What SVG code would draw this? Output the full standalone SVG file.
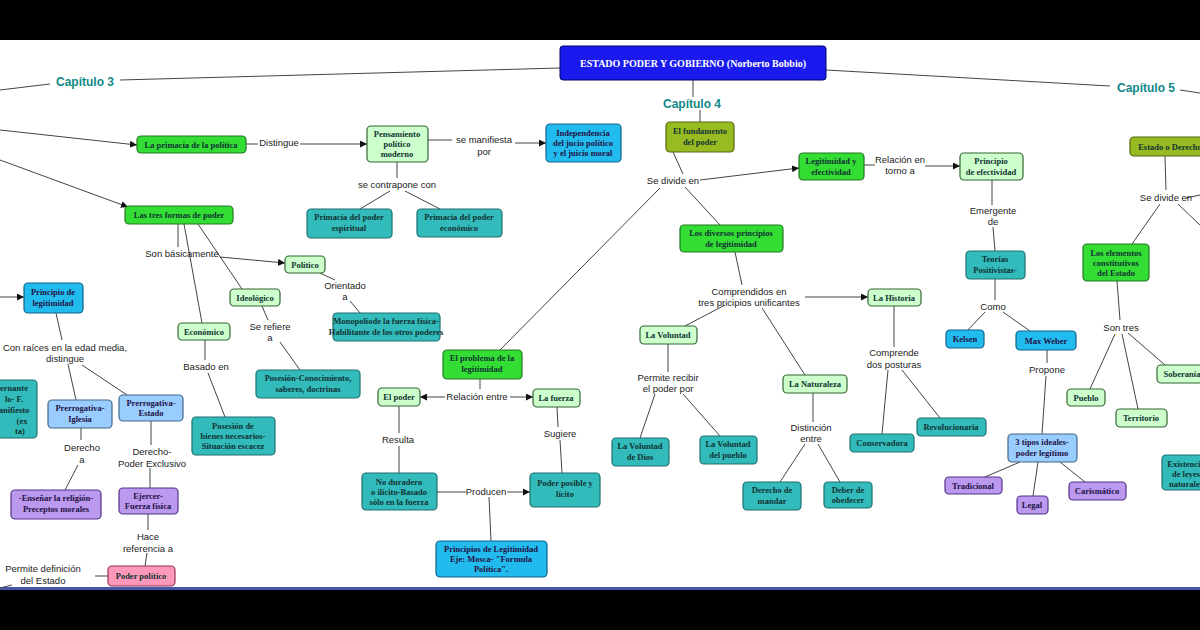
<svg xmlns="http://www.w3.org/2000/svg" width="1200" height="630" viewBox="0 0 1200 630">
<style>
.n rect{rx:4;stroke-width:1.2}
.lg rect{fill:#ccffcc;stroke:#336633}
.bg rect{fill:#33dd33;stroke:#227722}
.tl rect{fill:#33bbbb;stroke:#1f6f6f}
.bl rect{fill:#22bbee;stroke:#11628a}
.lb rect{fill:#99ccff;stroke:#446688}
.pu rect{fill:#bb99ee;stroke:#553388}
.pk rect{fill:#ff99bb;stroke:#993355}
.ol rect{fill:#99bb22;stroke:#556611}
.n text{font-family:"Liberation Serif",serif;font-weight:bold;font-size:8.5px;fill:#113333;text-anchor:middle}
.lb text,.pu text,.bl text{fill:#221144}
.l{font-family:"Liberation Sans",Arial,sans-serif;font-size:9.5px;fill:#222;text-anchor:middle}
.c line,.c path{stroke:#444;stroke-width:1;fill:none}
.cap{font-family:"Liberation Sans",Arial,sans-serif;font-weight:bold;font-size:12px;fill:#118888;text-anchor:middle}
</style>
<defs><marker id="a" viewBox="0 0 10 10" refX="10" refY="5" markerWidth="7" markerHeight="7" orient="auto"><path d="M0,0L10,5L0,10z" fill="#111"/></marker></defs>
<rect width="1200" height="630" fill="#000"/>
<rect y="40" width="1200" height="549" fill="#fff"/>
<rect y="587" width="1200" height="3" fill="#4455aa"/>
<g class="c">
<line x1="560" y1="68" x2="120" y2="80"/><line x1="50" y1="84" x2="0" y2="90"/>
<line x1="826" y1="70" x2="1110" y2="86"/><line x1="1180" y1="90" x2="1200" y2="93"/>
<line x1="693" y1="80" x2="693" y2="97"/><line x1="700" y1="110" x2="700" y2="122"/>
<line x1="0" y1="130" x2="137" y2="145" marker-end="url(#a)"/>
<line x1="0" y1="160" x2="128" y2="207" marker-end="url(#a)"/>
<line x1="246" y1="144" x2="258" y2="144"/><line x1="300" y1="144" x2="367" y2="144" marker-end="url(#a)"/>
<line x1="428" y1="140" x2="452" y2="140"/><line x1="515" y1="143" x2="546" y2="143" marker-end="url(#a)"/>
<line x1="397" y1="162" x2="397" y2="178"/><line x1="390" y1="191" x2="360" y2="209"/><line x1="405" y1="191" x2="440" y2="209"/>
<line x1="178" y1="224" x2="178" y2="247"/><line x1="220" y1="257" x2="285" y2="263" marker-end="url(#a)"/>
<line x1="184" y1="224" x2="202" y2="323"/><line x1="198" y1="224" x2="242" y2="289"/>
<line x1="320" y1="273" x2="335" y2="280"/><line x1="350" y1="301" x2="360" y2="313"/>
<line x1="262" y1="306" x2="268" y2="320"/><line x1="280" y1="342" x2="300" y2="370"/>
<line x1="205" y1="340" x2="205" y2="360"/><line x1="208" y1="373" x2="225" y2="417"/>
<line x1="0" y1="297" x2="24" y2="297" marker-end="url(#a)"/>
<line x1="56" y1="313" x2="62" y2="340"/><line x1="68" y1="364" x2="76" y2="400"/><line x1="82" y1="365" x2="127" y2="395"/>
<line x1="81" y1="428" x2="81" y2="440"/><line x1="78" y1="465" x2="65" y2="490"/>
<line x1="151" y1="421" x2="151" y2="445"/><line x1="150" y1="468" x2="150" y2="488"/>
<line x1="148" y1="514" x2="148" y2="530"/><line x1="147" y1="553" x2="145" y2="566"/>
<line x1="95" y1="576" x2="108" y2="576"/><line x1="0" y1="588" x2="12" y2="585"/>
<line x1="673" y1="152" x2="683" y2="174"/><line x1="700" y1="180" x2="799" y2="168" marker-end="url(#a)"/>
<line x1="685" y1="187" x2="720" y2="225"/><line x1="660" y1="188" x2="500" y2="350"/>
<line x1="864" y1="165" x2="875" y2="165"/><line x1="925" y1="166" x2="960" y2="166" marker-end="url(#a)"/>
<line x1="992" y1="180" x2="992" y2="205"/><line x1="993" y1="227" x2="995" y2="251"/>
<line x1="995" y1="279" x2="995" y2="300"/><line x1="985" y1="312" x2="968" y2="330"/><line x1="1003" y1="312" x2="1030" y2="331"/>
<line x1="1047" y1="350" x2="1047" y2="363"/><line x1="1046" y1="376" x2="1042" y2="434"/>
<line x1="1020" y1="462" x2="985" y2="477"/><line x1="1038" y1="462" x2="1033" y2="496"/><line x1="1060" y1="462" x2="1085" y2="482"/>
<line x1="735" y1="252" x2="742" y2="285"/><line x1="805" y1="297" x2="868" y2="297" marker-end="url(#a)"/>
<line x1="725" y1="305" x2="685" y2="326"/><line x1="762" y1="308" x2="805" y2="375"/>
<line x1="668" y1="344" x2="668" y2="372"/><line x1="655" y1="394" x2="640" y2="438"/><line x1="683" y1="394" x2="720" y2="436"/>
<line x1="813" y1="393" x2="813" y2="422"/><line x1="805" y1="444" x2="780" y2="482"/><line x1="818" y1="444" x2="840" y2="482"/>
<line x1="894" y1="306" x2="894" y2="347"/><line x1="888" y1="370" x2="882" y2="434"/><line x1="902" y1="370" x2="940" y2="418"/>
<line x1="480" y1="379" x2="480" y2="389"/><line x1="445" y1="397" x2="420" y2="397" marker-end="url(#a)"/><line x1="510" y1="397" x2="533" y2="397" marker-end="url(#a)"/>
<line x1="399" y1="406" x2="399" y2="433"/><line x1="399" y1="446" x2="399" y2="473"/>
<line x1="557" y1="407" x2="558" y2="427"/><line x1="560" y1="440" x2="562" y2="473"/>
<line x1="437" y1="492" x2="466" y2="492"/><line x1="507" y1="492" x2="530" y2="492" marker-end="url(#a)"/><line x1="489" y1="497" x2="491" y2="541"/>
<line x1="1165" y1="156" x2="1166" y2="190"/><line x1="1160" y1="204" x2="1132" y2="244"/><line x1="1178" y1="204" x2="1200" y2="225"/><line x1="1186" y1="198" x2="1200" y2="195"/>
<line x1="1117" y1="281" x2="1120" y2="320"/><line x1="1115" y1="334" x2="1090" y2="389"/><line x1="1122" y1="334" x2="1138" y2="409"/><line x1="1128" y1="333" x2="1165" y2="365"/>
</g>
<g id="title"><rect x="560" y="46" width="266" height="34" rx="3" fill="#1a1aee" stroke="#000066"/><text x="693" y="67" font-family="Liberation Serif,serif" font-weight="bold" font-size="10" fill="#fff" text-anchor="middle">ESTADO PODER Y GOBIERNO (Norberto Bobbio)</text></g>
<text class="cap" x="85" y="86">Capítulo 3</text><text class="cap" x="692" y="108">Capítulo 4</text><text class="cap" x="1146" y="92">Capítulo 5</text>
<g id="n1" class="n bg"><rect x="137" y="136" width="109" height="17"/><text x="191" y="147.5">La primacía de la política</text></g>
<g id="n2" class="n lg"><rect x="367" y="126" width="61" height="36"/><text x="397" y="137">Pensamiento</text><text x="397" y="147">político</text><text x="397" y="157">moderno</text></g>
<g id="n3" class="n bl"><rect x="546" y="124" width="75" height="38"/><text x="583" y="136">Independencia</text><text x="583" y="146">del jucio político</text><text x="583" y="156">y el juicio moral</text></g>
<g id="n4" class="n tl"><rect x="307" y="209" width="85" height="29"/><text x="349" y="220">Primacía del poder</text><text x="349" y="231">espiritual</text></g>
<g id="n5" class="n tl"><rect x="417" y="209" width="85" height="28"/><text x="459" y="220">Primacía del poder</text><text x="459" y="231">económico</text></g>
<g id="n6" class="n bg"><rect x="125" y="206" width="108" height="18"/><text x="179" y="218">Las tres formas de poder</text></g>
<g id="n7" class="n lg"><rect x="285" y="256" width="40" height="17"/><text x="305" y="267.5">Político</text></g>
<g id="n8" class="n lg"><rect x="230" y="289" width="50" height="17"/><text x="255" y="300.5">Ideológico</text></g>
<g id="n9" class="n lg"><rect x="178" y="323" width="52" height="17"/><text x="204" y="334.5">Económico</text></g>
<g id="n10" class="n tl"><rect x="333" y="313" width="107" height="28"/><text x="386" y="324">Monopoliode la fuerza física-</text><text x="386" y="335">Habilitante de los otros poderes</text></g>
<g id="n11" class="n tl"><rect x="256" y="370" width="104" height="28"/><text x="308" y="381">Posesión-Conocimiento,</text><text x="308" y="392">saberes, doctrinas</text></g>
<g id="n12" class="n tl"><rect x="192" y="417" width="83" height="38"/><text x="233" y="429">Posesión de</text><text x="233" y="439">bienes necesarios-</text><text x="233" y="449">Situación escacez</text></g>
<g id="n13" class="n bl"><rect x="24" y="283" width="59" height="30"/><text x="53" y="295">Principio de</text><text x="53" y="306">legitimidad</text></g>
<g id="n14" class="n lb"><rect x="48" y="400" width="64" height="28"/><text x="80" y="411">Prerrogativa-</text><text x="80" y="422">Iglesia</text></g>
<g id="n15" class="n lb"><rect x="119" y="395" width="64" height="26"/><text x="151" y="406">Prerrogativa-</text><text x="151" y="416">Estado</text></g>
<g id="n16" class="n pu"><rect x="11" y="490" width="90" height="29"/><text x="56" y="501">-Enseñar la religión-</text><text x="56" y="512">Preceptos morales</text></g>
<g id="n17" class="n pu"><rect x="119" y="488" width="59" height="26"/><text x="148" y="499">Ejercer-</text><text x="148" y="509">Fuerza física</text></g>
<g id="n18" class="n pk"><rect x="108" y="566" width="67" height="20"/><text x="141" y="579">Poder político</text></g>
<g id="n19" class="n tl"><rect x="-10" y="380" width="47" height="58"/><text x="14" y="391">ernante</text><text x="14" y="402">lo- F.</text><text x="14" y="413">anifiesto</text><text x="22" y="424">(ex</text><text x="20" y="434">ta)</text></g>
<g id="n20" class="n ol"><rect x="666" y="122" width="68" height="30"/><text x="700" y="134">El fundamento</text><text x="700" y="145">del poder</text></g>
<g id="n21" class="n bg"><rect x="799" y="153" width="65" height="27"/><text x="831" y="164">Legitimidad y</text><text x="831" y="175">efectividad</text></g>
<g id="n22" class="n lg"><rect x="960" y="153" width="63" height="27"/><text x="991" y="164">Principio</text><text x="991" y="175">de efectividad</text></g>
<g id="n23" class="n tl"><rect x="966" y="251" width="59" height="28"/><text x="995" y="262">Teorías</text><text x="995" y="273">Positivistas-</text></g>
<g id="n24" class="n bl"><rect x="946" y="330" width="38" height="18"/><text x="965" y="342">Kelsen</text></g>
<g id="n25" class="n bl"><rect x="1016" y="331" width="60" height="19"/><text x="1046" y="343.5">Max Weber</text></g>
<g id="n26" class="n lb"><rect x="1008" y="434" width="69" height="28"/><text x="1042" y="445">3 tipos ideales-</text><text x="1042" y="456">poder legítimo</text></g>
<g id="n27" class="n pu"><rect x="945" y="477" width="57" height="17"/><text x="973" y="488.5">Tradicional</text></g>
<g id="n28" class="n pu"><rect x="1017" y="496" width="31" height="18"/><text x="1032" y="508">Legal</text></g>
<g id="n29" class="n pu"><rect x="1069" y="482" width="57" height="18"/><text x="1097" y="494">Carismático</text></g>
<g id="n30" class="n bg"><rect x="680" y="225" width="103" height="27"/><text x="731" y="236">Los diversos principios</text><text x="731" y="247">de legitimidad</text></g>
<g id="n31" class="n lg"><rect x="868" y="289" width="53" height="17"/><text x="894" y="300.5">La Historia</text></g>
<g id="n32" class="n lg"><rect x="640" y="326" width="57" height="18"/><text x="668" y="338">La Voluntad</text></g>
<g id="n33" class="n lg"><rect x="783" y="375" width="64" height="18"/><text x="815" y="387">La Naturaleza</text></g>
<g id="n34" class="n tl"><rect x="612" y="438" width="57" height="28"/><text x="640" y="449">La Voluntad</text><text x="640" y="460">de Dios</text></g>
<g id="n35" class="n tl"><rect x="700" y="436" width="57" height="28"/><text x="728" y="447">La Voluntad</text><text x="728" y="458">del pueblo</text></g>
<g id="n36" class="n tl"><rect x="743" y="482" width="58" height="28"/><text x="772" y="493">Derecho de</text><text x="772" y="504">mandar</text></g>
<g id="n37" class="n tl"><rect x="824" y="482" width="48" height="26"/><text x="848" y="493">Deber de</text><text x="848" y="503">obedecer</text></g>
<g id="n38" class="n tl"><rect x="850" y="434" width="64" height="18"/><text x="882" y="446">Conservadora</text></g>
<g id="n39" class="n tl"><rect x="917" y="418" width="69" height="18"/><text x="951" y="430">Revolucionaria</text></g>
<g id="n40" class="n bg"><rect x="443" y="350" width="79" height="29"/><text x="482" y="361">El problema de la</text><text x="482" y="372">legitimidad</text></g>
<g id="n41" class="n lg"><rect x="378" y="388" width="42" height="18"/><text x="399" y="400">El poder</text></g>
<g id="n42" class="n lg"><rect x="533" y="389" width="47" height="18"/><text x="556" y="401">La fuerza</text></g>
<g id="n43" class="n tl"><rect x="362" y="473" width="75" height="37"/><text x="399" y="485">No duradero</text><text x="399" y="495">o ilícito-Basado</text><text x="399" y="505">sólo en la fuerza</text></g>
<g id="n44" class="n tl"><rect x="530" y="473" width="70" height="34"/><text x="565" y="486">Poder posible y</text><text x="565" y="497">lícito</text></g>
<g id="n45" class="n bl"><rect x="436" y="541" width="111" height="36"/><text x="491" y="552">Principios de Legitimidad</text><text x="491" y="562">Eje: Mosca- "Formula</text><text x="491" y="572">Política".</text></g>
<g id="n46" class="n ol"><rect x="1130" y="137" width="80" height="19"/><text x="1170" y="149.5">Estado o Derecho</text></g>
<g id="n47" class="n bg"><rect x="1083" y="244" width="66" height="37"/><text x="1116" y="256">Los elementos</text><text x="1116" y="266">constitutivos</text><text x="1116" y="276">del Estado</text></g>
<g id="n48" class="n lg"><rect x="1067" y="389" width="38" height="17"/><text x="1086" y="400.5">Pueblo</text></g>
<g id="n49" class="n lg"><rect x="1116" y="409" width="51" height="18"/><text x="1141" y="421">Territorio</text></g>
<g id="n50" class="n lg"><rect x="1157" y="365" width="50" height="18"/><text x="1182" y="377">Soberanía</text></g>
<g id="n51" class="n tl"><rect x="1162" y="455" width="48" height="35"/><text x="1186" y="467">Existencia</text><text x="1186" y="477">de leyes</text><text x="1186" y="487">naturales</text></g>
<g id="labels">
<rect x="258" y="136" width="42" height="14" fill="#fff"/><text class="l" x="279" y="146">Distingue</text>
<text class="l" x="484" y="143">se manifiesta</text><text class="l" x="484" y="155">por</text>
<text class="l" x="397" y="188">se contrapone con</text>
<text class="l" x="182" y="257">Son básicamente</text>
<text class="l" x="345" y="289">Orientado</text><text class="l" x="345" y="300">a</text>
<text class="l" x="270" y="330">Se refiere</text><text class="l" x="270" y="341">a</text>
<text class="l" x="206" y="370">Basado en</text>
<text class="l" x="65" y="351">Con raíces en la edad media,</text><text class="l" x="65" y="362">distingue</text>
<text class="l" x="82" y="451">Derecho</text><text class="l" x="82" y="463">a</text>
<text class="l" x="152" y="455">Derecho-</text><text class="l" x="152" y="467">Poder Exclusivo</text>
<text class="l" x="148" y="540">Hace</text><text class="l" x="148" y="552">referencia a</text>
<text class="l" x="43" y="572">Permite definición</text><text class="l" x="43" y="584">del Estado</text>
<text class="l" x="673" y="184">Se divide en</text>
<text class="l" x="900" y="163">Relación en</text><text class="l" x="900" y="174">torno a</text>
<text class="l" x="993" y="214">Emergente</text><text class="l" x="993" y="225">de</text>
<text class="l" x="993" y="310">Como</text>
<text class="l" x="1047" y="373">Propone</text>
<text class="l" x="749" y="295">Comprendidos en</text><text class="l" x="749" y="306">tres pricipios unificantes</text>
<text class="l" x="668" y="381">Permite recibir</text><text class="l" x="668" y="392">el poder por</text>
<text class="l" x="811" y="431">Distinción</text><text class="l" x="811" y="442">entre</text>
<text class="l" x="894" y="356">Comprende</text><text class="l" x="894" y="368">dos posturas</text>
<text class="l" x="477" y="400">Relación entre</text>
<text class="l" x="398" y="443">Resulta</text>
<text class="l" x="560" y="437">Sugiere</text>
<text class="l" x="486" y="495">Producen</text>
<text class="l" x="1166" y="201">Se divide en</text>
<text class="l" x="1121" y="331">Son tres</text>
</g>
</svg>
